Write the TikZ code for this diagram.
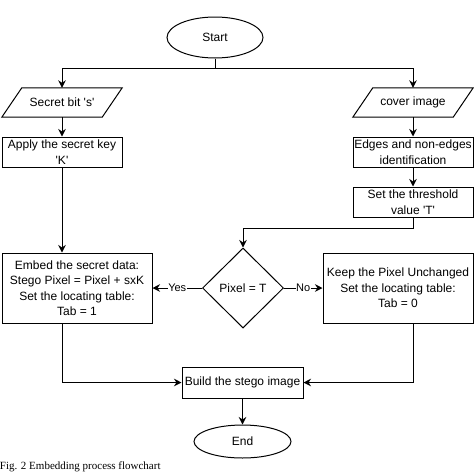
\documentclass[tikz,border=0pt]{standalone}
\usepackage{fontspec}
\setmainfont{Liberation Sans}
\newfontfamily\capfont{Liberation Serif}
\usetikzlibrary{shapes.geometric,arrows.meta}
\begin{document}
\begin{tikzpicture}[x=1pt,y=-1pt,
  every node/.style={font=\fontsize{12}{15.5}\selectfont, align=center, inner sep=1pt},
  arr/.style={-{Stealth[length=7.5pt,width=7.5pt,inset=2.5pt]}, line width=1pt},
  ln/.style={line width=1pt},
  boxn/.style={draw, line width=1pt, rectangle, minimum width=120pt, minimum height=30pt},
  ovaln/.style={draw, line width=1pt, ellipse, minimum width=96pt},
  parn/.style={rectangle, minimum width=100pt, minimum height=29pt},
  decn/.style={draw, line width=1pt, diamond, minimum width=81pt, minimum height=80pt, inner sep=0pt},
  lbl/.style={fill=white, font=\fontsize{11}{13}\selectfont, inner sep=0.5pt}
]
\useasboundingbox (0,0) rectangle (474,472);
% nodes
\node[ovaln, minimum height=41pt] (start) at (215,37.5) {Start};
\node[parn] (secret) at (62,102.5) {Secret bit \textquotesingle s\textquotesingle};
\node[parn] (cover) at (413,102.5) {cover image};
\draw[ln] ([xshift=-10pt]secret.south west) -- ([xshift=10pt]secret.north west) -- ([xshift=10pt]secret.north east) -- ([xshift=-10pt]secret.south east) -- cycle;
\draw[ln] ([xshift=-10pt]cover.south west) -- ([xshift=10pt]cover.north west) -- ([xshift=10pt]cover.north east) -- ([xshift=-10pt]cover.south east) -- cycle;
\node[boxn] (key) at (62,152) {Apply the secret key\\\textquotesingle K\textquotesingle};
\node[boxn] (edges) at (413,152) {Edges and non-edges\\identification};
\node[boxn] (thresh) at (413,202) {Set the threshold\\value \textquotesingle T\textquotesingle};
\node[decn] (dec) at (243,288) {Pixel = T};
\node[boxn, minimum width=150pt, minimum height=70pt] (embed) at (77,288) {Embed the secret data:\\Stego Pixel = Pixel + sxK\\Set the locating table:\\Tab = 1};
\node[boxn, minimum width=150pt, minimum height=70pt] (keep) at (398,288) {Keep the Pixel Unchanged\\Set the locating table:\\Tab = 0};
\node[boxn, minimum width=121pt, minimum height=31pt] (build) at (242.5,382.5) {Build the stego image};
\node[ovaln, minimum width=97pt, minimum height=33pt] (endn) at (242.5,441.5) {End};
\node[anchor=base west, inner sep=0pt, font=\capfont\fontsize{11}{13}\selectfont] (cap) at (-0.3,469.5) {Fig. 2 Embedding process flowchart};
% connectors
\coordinate (fork) at (215,68);
\draw[ln] (start.south) -- (fork);
\draw[arr] (fork) -| (secret.north);
\draw[arr] (fork) -| (cover.north);
\draw[arr] (secret.south) -- (key.north);
\draw[arr] (cover.south) -- (edges.north);
\draw[arr] (edges.south) -- (thresh.north);
\draw[arr] (key.south) -- (key.south |- embed.north);
\draw[arr] (thresh.south) -- ++(0,11) -| (dec.north);
\draw[arr] (dec.west) -- node[lbl] {Yes} (embed.east);
\draw[arr] (dec.east) -- node[lbl] {No} (keep.west);
\draw[arr] (key.south |- embed.south) |- (build.west);
\draw[arr] (thresh.south |- keep.south) |- (build.east);
\draw[arr] (build.south) -- (endn.north);
\end{tikzpicture}
\end{document}
